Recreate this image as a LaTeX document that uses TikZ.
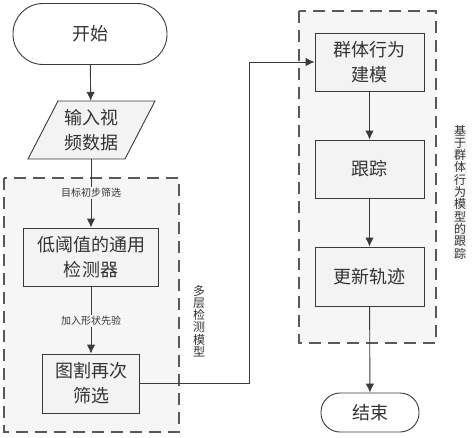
\documentclass[tikz,border=0pt]{standalone}
\usepackage{fontspec}
\newfontfamily\cjk{Noto Sans CJK SC}
\usetikzlibrary{arrows.meta}
\definecolor{ln}{HTML}{3A3A3A}
\definecolor{txt}{HTML}{333333}
\definecolor{grpfill}{HTML}{F6F6F6}
\definecolor{boxfill}{HTML}{F3F3F3}
\newcommand\myvlabfont{\cjk\fontsize{12}{12.3}\selectfont\lineskiplimit=-20pt\lineskip=0pt\relax}
\begin{document}
\begin{tikzpicture}[x=1pt,y=-1pt,
  every node/.style={text=txt},
  proc/.style={draw=ln, line width=0.9pt, fill=boxfill, align=center, inner sep=0pt,
    font=\cjk\fontsize{18}{25}\selectfont},
  term/.style={proc, fill=white},
  grp/.style={draw=gray!70!black, line width=1.3pt, dash pattern=on 12pt off 7pt, fill=grpfill},
  small/.style={font=\cjk\fontsize{10}{12}\selectfont, fill=grpfill, inner sep=1.5pt},
  vlab/.style={font=\myvlabfont, align=center, inner sep=1pt},
  arr/.style={draw=ln, line width=0.9pt, -{Latex[length=9pt,width=8.5pt]}},
  ln/.style={draw=ln, line width=0.9pt}]
\useasboundingbox (0,0) rectangle (474,437);
% group containers
\draw[grp] (4,178) rectangle (179,432);
\draw[grp] (299,11) rectangle (436,343);
% nodes
\node[term, minimum width=154pt, minimum height=61pt, rounded corners=30pt] (start) at (90,34) {开始};
\fill[boxfill, draw=ln, line width=0.9pt] (58,101) -- (155,101) -- (125,159) -- (28,159) -- cycle;
\node[align=center, font=\cjk\fontsize{18}{25}\selectfont, minimum width=97pt, minimum height=58pt, inner sep=0pt] (inp) at (91,130) {输入视\\频数据};
\node[proc, minimum width=135pt, minimum height=58pt] (det) at (91,257) {低阈值的通用\\检测器};
\node[proc, minimum width=97pt, minimum height=59pt] (cut) at (91,383.5) {图割再次\\筛选};
\node[proc, minimum width=109pt, minimum height=58pt] (grpm) at (369.5,62) {群体行为\\建模};
\node[proc, minimum width=109pt, minimum height=58pt] (track) at (369.5,169) {跟踪};
\node[proc, minimum width=109pt, minimum height=59pt] (upd) at (369.5,276.5) {更新轨迹};
\node[term, minimum width=98pt, minimum height=39pt, rounded corners=19pt] (fin) at (370,412.5) {结束};
% connectors
\draw[arr] (start) -- (inp);
\draw[arr] (inp) -- (det);
\draw[arr] (det) -- (cut);
\coordinate (bend) at (249,0);
\draw[arr] (cut.east) -- (cut.east -| bend) |- (grpm.west);
\draw[arr] (grpm) -- (track);
\draw[arr] (track) -- (upd);
\draw[arr] (upd) -- (fin);
% labels
\node[small] (l1) at (91,193) {目标初步筛选};
\node[small] (l2) at (91,321) {加入形状先验};
\node[vlab] (v1) at (199,321) {多\\层\\检\\测\\模\\型};
\node[vlab, fill=grpfill] (v2) at (460,192) {基\\于\\群\\体\\行\\为\\模\\型\\的\\跟\\踪};
\end{tikzpicture}
\end{document}
